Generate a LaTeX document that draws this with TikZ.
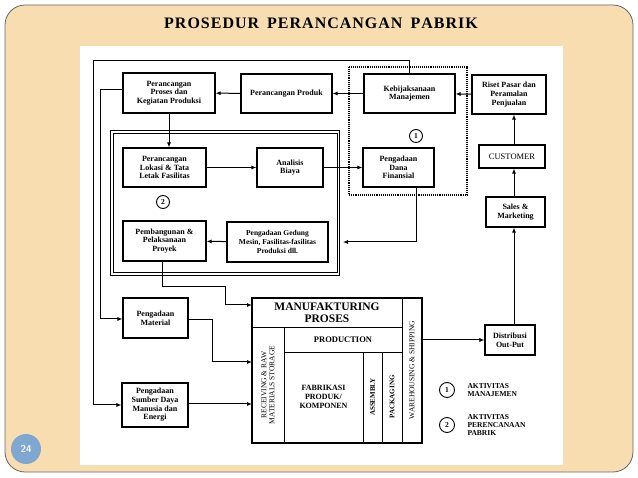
\documentclass[tikz,border=0pt]{standalone}
\usepackage{fontspec}
\setmainfont{Liberation Serif}
\usetikzlibrary{arrows.meta}
\definecolor{beige}{HTML}{F8DDB0}
\definecolor{numblue}{HTML}{7FA7CF}
\begin{document}
\begin{tikzpicture}[x=1pt,y=-1pt,
  bx/.style={draw,line width=1.1pt,font=\fontsize{8}{8.6}\selectfont\bfseries,align=center,inner sep=1pt},
  ar/.style={-{Latex[length=5pt,width=4pt]},line width=1pt},
  ln/.style={line width=1pt},
  num/.style={circle,draw,line width=0.9pt,inner sep=0pt,minimum size=13pt,font=\fontsize{7.5}{8}\selectfont\bfseries},
  rot/.style={rotate=90,font=\fontsize{7}{7.6}\selectfont\bfseries,align=center,inner sep=0pt}]
\useasboundingbox (0,0) rectangle (638,478);
\fill[white] (0,0) rectangle (638,478);
\draw[fill=beige,draw=gray!80!black,line width=0.8pt,rounded corners=20pt] (5,5) rectangle (633,472);
\fill[white] (80,46) rectangle (563,465);
\node[font=\fontsize{16}{18}\selectfont\bfseries] (title) at (321,23) {P\kern1ptR\kern1ptO\kern1ptS\kern1ptE\kern1ptD\kern1ptU\kern1ptR \ P\kern1ptE\kern1ptR\kern1ptA\kern1ptN\kern1ptC\kern1ptA\kern1ptN\kern1ptG\kern1ptA\kern1ptN \ P\kern1ptA\kern1ptB\kern1ptR\kern1ptI\kern1ptK};
\node[circle,fill=numblue,minimum size=30pt,text=white,font=\sffamily\bfseries\fontsize{10}{12}\selectfont] (pg) at (26,449) {24};

% boxes
\node[bx,minimum width=92pt,minimum height=40pt] (pp) at (169,93) {Perancangan\\Proses dan\\Kegiatan Produksi};
\node[bx,minimum width=91pt,minimum height=39pt] (prod) at (286.5,93.5) {Perancangan Produk};
\node[bx,minimum width=91pt,minimum height=39pt] (keb) at (409.5,93.5) {Kebijaksanaan\\Manajemen};
\node[bx,minimum width=74pt,minimum height=39pt] (riset) at (509,94.5) {Riset Pasar dan\\Peramalan\\Penjualan};
\draw[densely dotted,line width=1.1pt] (349,67) rectangle (467,195);
\draw[line width=0.9pt] (110,130) rectangle (339,275);
\draw[line width=0.9pt] (113,133) rectangle (337,272);
\node[bx,minimum width=83pt,minimum height=39pt] (lok) at (164.5,167.5) {Perancangan\\Lokasi \& Tata\\Letak Fasilitas};
\node[bx,minimum width=66pt,minimum height=39pt] (ana) at (290,167.5) {Analisis\\Biaya};
\node[bx,minimum width=71pt,minimum height=39pt] (dana) at (398.5,167.5) {Pengadaan\\Dana\\Finansial};
\node[num] (c1) at (416,136) {1};
\node[num] (c2) at (163,202) {2};
\node[bx,minimum width=83pt,minimum height=40pt] (pem) at (164.5,241) {Pembangunan \&\\Pelaksanaan\\Proyek};
\node[bx,minimum width=101pt,minimum height=40pt,font=\fontsize{7.5}{8.6}\selectfont\bfseries] (ged) at (277.5,242) {Pengadaan Gedung\\Mesin, Fasilitas-fasilitas\\Produksi dll.};
\node[bx,font=\fontsize{8.5}{9}\selectfont,minimum width=66pt,minimum height=23pt] (cust) at (512,156.5) {CUSTOMER};
\node[bx,minimum width=59pt,minimum height=30pt] (sales) at (515.5,212) {Sales \&\\Marketing};
\node[bx,minimum width=65pt,minimum height=40pt] (mat) at (155.5,318) {Pengadaan\\Material};
\node[bx,minimum width=66pt,minimum height=44pt] (sdm) at (155,405) {Pengadaan\\Sumber Daya\\Manusia dan\\Energi};
\node[bx,minimum width=50pt,minimum height=30pt] (dist) at (510,340) {Distribusi\\Out-Put};

% manufacturing block
\draw[line width=1.1pt] (252,298) rectangle (422,443);
\draw[line width=0.9pt] (252,327) -- (402,327) (402,298) -- (402,443) (284,327) -- (284,443)
  (284,352) -- (402,352) (363,352) -- (363,443) (382,352) -- (382,443);
\node[font=\fontsize{11.5}{12}\selectfont\bfseries,align=center] (mp) at (327,312.5) {MANUFAKTURING\\PROSES};
\node[font=\fontsize{8.5}{9}\selectfont\bfseries] (prodn) at (343,339.5) {PRODUCTION};
\node[font=\fontsize{8}{9}\selectfont\bfseries,align=center] (fab) at (323.5,397) {FABRIKASI\\PRODUK/\\KOMPONEN};
\node[rot,font=\fontsize{7.5}{8}\selectfont] (rec) at (268,385) {RECEIVING \& RAW\\MATERIALS STORAGE};
\node[rot] (asm) at (372.5,397) {ASSEMBLY};
\node[rot] (pkg) at (392,397) {PACKAGING};
\node[rot,font=\fontsize{7.5}{8}\selectfont] (wh) at (412,370) {WAREHOUSING \& SHIPPING};

% legend
\node[num,minimum size=15pt] (l1) at (447,390) {1};
\node[num,minimum size=15pt] (l2) at (447,425) {2};
\node[anchor=west,font=\fontsize{7.5}{8}\selectfont\bfseries,align=left] (t1) at (464,390) {AKTIVITAS\\MANAJEMEN};
\node[anchor=west,font=\fontsize{7.5}{8}\selectfont\bfseries,align=left] (t2) at (464,425) {AKTIVITAS\\PERENCANAAN\\PABRIK};

% connectors
\draw[ar] (riset) -- (keb);
\draw[ar] (keb) -- (prod);
\draw[ar] (prod) -- (pp);
\draw[ar] (pp.south) -- (pp.south |- lok.north);
\draw[ar] (lok) -- (ana);
\draw[ar] (ana) -- (dana);
\draw[ar] (dana.south -| c1) |- (343,242);
\draw[ar] (ged) -- (pem);
\draw[ar] (sales.north -| 514,0) -- (cust.south -| 514,0);
\draw[ar] (cust.north -| 514,0) -- (riset.south -| 514,0);
\draw[ar] (dist.north -| 514,0) -- (sales.south -| 514,0);
\draw[ar] (422,340) -- (dist.west);
\draw[ln] (keb.north -| 409,0) -- (409,61) -- (93,61) -- (93,405);
\draw[ar] (93,405) -- (sdm.west |- 93,405);
\draw[ln] (pp.west |- 0,90) -- (100,90) -- (100,319);
\draw[ar] (100,319) -- (mat.west |- 0,319);
\draw[ar] (pem.south -| 162,0) -- (162,287) -- (225,287) -- (225,305) -- (252,305);
\draw[ar] (mat.east |- 0,320) -- (212,320) -- (212,362) -- (252,362);
\draw[ar] (sdm.east |- 0,404) -- (252,404);
\end{tikzpicture}
\end{document}
